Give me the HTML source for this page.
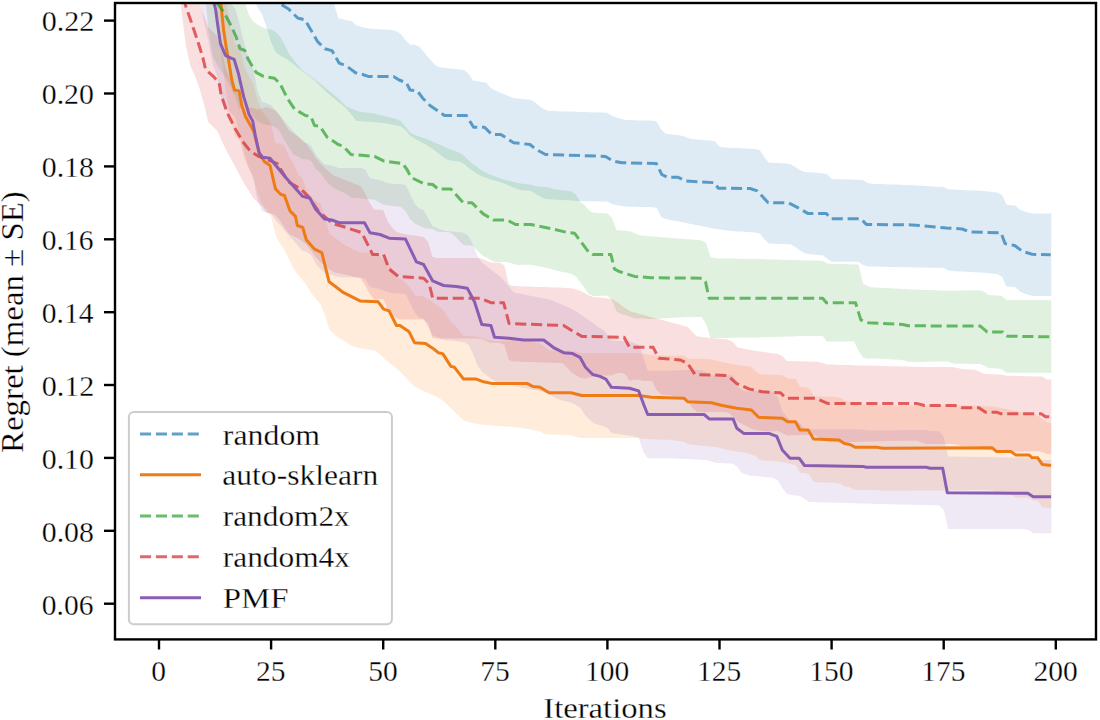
<!DOCTYPE html>
<html><head><meta charset="utf-8"><style>
html,body{margin:0;padding:0;background:#fff;width:1100px;height:720px;overflow:hidden}
svg{display:block}
.t{font-family:"Liberation Serif",serif;fill:#000;stroke:#fff;stroke-width:0.3px;paint-order:fill stroke}
</style></head><body>
<svg width="1100" height="720" viewBox="0 0 1100 720">
<defs><clipPath id="pc"><rect x="115" y="3" width="981" height="636"/></clipPath></defs>
<g clip-path="url(#pc)"><polygon points="159.0,-400.0 163.5,-400.0 168.0,-400.0 172.5,-400.0 176.9,-400.0 181.4,-400.0 185.9,-400.0 190.4,-400.0 194.9,-400.0 199.4,-400.0 203.8,-400.0 208.3,-400.0 212.8,-400.0 217.3,-400.0 221.8,-400.0 226.3,-400.0 230.7,-400.0 235.2,-400.0 239.7,-400.0 244.2,-400.0 248.7,-346.4 253.2,-250.2 257.6,-152.0 262.1,-73.8 266.6,-65.5 271.1,-59.1 275.6,-53.1 280.1,-47.4 284.6,-44.8 289.0,-42.0 293.5,-37.5 298.0,-33.3 302.5,-55.3 307.0,-46.8 311.5,-38.4 315.9,-29.9 320.4,-21.5 324.9,-13.0 329.4,-4.5 333.9,3.9 338.4,18.2 342.8,19.2 347.3,20.2 351.8,21.2 356.3,25.2 360.8,26.8 365.3,27.7 369.7,28.5 374.2,28.9 378.7,29.2 383.2,29.5 387.7,29.8 392.2,30.1 396.7,31.4 401.1,34.2 405.6,40.6 410.1,44.4 414.6,44.7 419.1,46.4 423.6,51.5 428.0,57.0 432.5,62.2 437.0,66.6 441.5,67.5 446.0,68.1 450.5,68.6 454.9,69.1 459.4,69.6 463.9,70.1 468.4,73.4 472.9,80.4 477.4,81.2 481.8,81.9 486.3,82.7 490.8,87.9 495.3,90.6 499.8,92.4 504.3,94.3 508.8,96.2 513.2,98.0 517.7,98.6 522.2,99.1 526.7,99.5 531.2,99.9 535.7,103.1 540.1,106.7 544.6,109.4 549.1,111.0 553.6,111.1 558.1,111.2 562.6,111.4 567.0,111.5 571.5,111.6 576.0,111.8 580.5,111.9 585.0,112.0 589.5,112.2 593.9,112.3 598.4,112.4 602.9,112.6 607.4,112.8 611.9,115.8 616.4,117.4 620.9,118.7 625.3,120.0 629.8,120.1 634.3,120.3 638.8,120.4 643.3,120.5 647.8,120.6 652.2,120.8 656.7,121.5 661.2,129.4 665.7,133.8 670.2,134.3 674.7,134.8 679.1,135.2 683.6,136.2 688.1,138.0 692.6,139.2 697.1,139.6 701.6,139.9 706.0,140.3 710.5,140.6 715.0,141.5 719.5,146.7 724.0,147.5 728.5,147.7 733.0,147.9 737.4,148.1 741.9,148.3 746.4,148.5 750.9,148.7 755.4,148.9 759.9,150.2 764.3,156.9 768.8,162.7 773.3,162.9 777.8,163.1 782.3,163.3 786.8,163.5 791.2,164.4 795.7,167.3 800.2,170.2 804.7,172.0 809.2,172.3 813.7,172.6 818.1,173.0 822.6,173.3 827.1,174.3 831.6,178.9 836.1,179.2 840.6,179.3 845.1,179.5 849.5,179.6 854.0,179.7 858.5,179.8 863.0,180.0 867.5,182.9 872.0,183.7 876.4,183.9 880.9,184.1 885.4,184.2 889.9,184.4 894.4,184.6 898.9,184.7 903.3,184.9 907.8,185.1 912.3,185.3 916.8,185.5 921.3,185.8 925.8,186.0 930.2,186.3 934.7,186.6 939.2,186.9 943.7,187.1 948.2,189.3 952.7,189.5 957.2,189.7 961.6,189.9 966.1,190.2 970.6,190.4 975.1,190.6 979.6,190.8 984.1,191.0 988.5,191.5 993.0,192.0 997.5,192.6 1002.0,195.1 1006.5,204.7 1011.0,205.2 1015.4,205.6 1019.9,209.8 1024.4,211.5 1028.9,212.7 1033.4,213.5 1037.9,213.5 1042.3,213.5 1046.8,213.5 1051.3,213.4 1051.3,296.0 1046.8,296.1 1042.3,296.1 1037.9,296.1 1033.4,296.1 1028.9,295.0 1024.4,293.5 1019.9,291.5 1015.4,287.2 1011.0,286.8 1006.5,286.4 1002.0,276.8 997.5,274.3 993.0,273.7 988.5,273.2 984.1,272.7 979.6,272.5 975.1,272.2 970.6,272.0 966.1,271.7 961.6,271.5 957.2,271.3 952.7,271.0 948.2,270.5 943.7,267.9 939.2,267.8 934.7,267.7 930.2,267.7 925.8,267.6 921.3,267.5 916.8,267.4 912.3,267.3 907.8,267.3 903.3,267.2 898.9,267.1 894.4,267.0 889.9,266.9 885.4,266.8 880.9,266.7 876.4,266.6 872.0,266.5 867.5,266.5 863.0,265.1 858.5,261.8 854.0,261.8 849.5,261.8 845.1,261.8 840.6,261.8 836.1,261.8 831.6,261.8 827.1,258.5 822.6,255.3 818.1,254.9 813.7,254.5 809.2,254.0 804.7,253.6 800.2,250.5 795.7,247.3 791.2,244.5 786.8,244.3 782.3,244.1 777.8,244.0 773.3,243.8 768.8,243.6 764.3,239.0 759.9,233.6 755.4,232.5 750.9,232.2 746.4,231.9 741.9,231.6 737.4,231.4 733.0,231.1 728.5,230.7 724.0,230.1 719.5,229.5 715.0,228.8 710.5,227.9 706.0,227.0 701.6,226.1 697.1,225.2 692.6,224.3 688.1,223.4 683.6,222.5 679.1,221.6 674.7,220.7 670.2,219.9 665.7,219.0 661.2,217.0 656.7,208.0 652.2,207.2 647.8,207.1 643.3,207.0 638.8,206.9 634.3,206.8 629.8,206.7 625.3,206.5 620.9,205.9 616.4,204.9 611.9,203.9 607.4,201.6 602.9,201.5 598.4,201.4 593.9,201.3 589.5,201.3 585.0,201.2 580.5,201.1 576.0,200.9 571.5,200.6 567.0,200.3 562.6,200.0 558.1,199.7 553.6,199.5 549.1,199.2 544.6,198.7 540.1,196.4 535.7,194.0 531.2,190.9 526.7,190.5 522.2,190.3 517.7,189.3 513.2,187.4 508.8,185.6 504.3,183.7 499.8,182.1 495.3,180.8 490.8,179.4 486.3,178.1 481.8,176.3 477.4,173.7 472.9,171.1 468.4,167.7 463.9,163.7 459.4,161.5 454.9,160.9 450.5,160.4 446.0,159.0 441.5,155.7 437.0,152.3 432.5,149.0 428.0,145.8 423.6,143.4 419.1,140.9 414.6,138.4 410.1,135.5 405.6,130.6 401.1,126.3 396.7,125.4 392.2,124.6 387.7,123.8 383.2,123.0 378.7,122.5 374.2,122.2 369.7,121.8 365.3,121.5 360.8,121.2 356.3,120.8 351.8,115.2 347.3,109.6 342.8,105.6 338.4,102.0 333.9,98.3 329.4,94.7 324.9,90.4 320.4,85.9 315.9,81.5 311.5,77.7 307.0,74.5 302.5,71.3 298.0,68.0 293.5,64.2 289.0,60.8 284.6,57.9 280.1,55.6 275.6,52.2 271.1,42.2 266.6,27.5 262.1,14.3 257.6,7.5 253.2,-1.8 248.7,-13.3 244.2,-67.1 239.7,-120.9 235.2,-174.7 230.7,-228.5 226.3,-282.3 221.8,-336.1 217.3,-389.9 212.8,-400.0 208.3,-400.0 203.8,-400.0 199.4,-400.0 194.9,-400.0 190.4,-400.0 185.9,-400.0 181.4,-400.0 176.9,-400.0 172.5,-400.0 168.0,-400.0 163.5,-400.0 159.0,-400.0" fill="#1f77b4" fill-opacity="0.15"/><polygon points="159.0,-400.0 163.5,-400.0 168.0,-400.0 172.5,-400.0 176.9,-400.0 181.4,-400.0 185.9,-400.0 190.4,-400.0 194.9,-347.7 199.4,-293.9 203.8,-240.1 208.3,-186.3 212.8,-132.5 217.3,-78.7 221.8,-34.0 226.3,1.5 230.7,27.3 235.2,44.0 239.7,48.0 244.2,66.4 248.7,75.9 253.2,83.9 257.6,100.8 262.1,111.6 266.6,117.1 271.1,124.0 275.6,142.9 280.1,143.5 284.6,145.5 289.0,157.0 293.5,163.3 298.0,174.6 302.5,178.3 307.0,191.7 311.5,196.8 315.9,200.9 320.4,203.5 324.9,216.3 329.4,233.2 333.9,236.9 338.4,240.3 342.8,243.7 347.3,246.1 351.8,248.5 356.3,250.7 360.8,252.5 365.3,252.6 369.7,252.8 374.2,252.7 378.7,253.6 383.2,259.6 387.7,261.5 392.2,269.0 396.7,277.5 401.1,278.7 405.6,283.2 410.1,287.6 414.6,295.3 419.1,295.7 423.6,296.6 428.0,299.0 432.5,301.9 437.0,305.6 441.5,308.2 446.0,313.9 450.5,321.2 454.9,324.9 459.4,330.8 463.9,336.2 468.4,335.6 472.9,336.2 477.4,336.5 481.8,338.2 486.3,339.7 490.8,340.6 495.3,341.0 499.8,341.0 504.3,340.8 508.8,340.4 513.2,340.1 517.7,339.7 522.2,339.7 526.7,339.6 531.2,341.6 535.7,342.8 540.1,343.5 544.6,346.4 549.1,350.6 553.6,350.6 558.1,350.6 562.6,350.6 567.0,350.5 571.5,350.5 576.0,351.6 580.5,352.8 585.0,353.1 589.5,353.1 593.9,353.1 598.4,353.1 602.9,353.1 607.4,353.1 611.9,353.1 616.4,353.1 620.9,353.1 625.3,353.1 629.8,353.1 634.3,353.1 638.8,353.1 643.3,353.8 647.8,354.4 652.2,355.3 656.7,355.5 661.2,355.6 665.7,355.7 670.2,355.8 674.7,355.7 679.1,355.5 683.6,355.3 688.1,358.7 692.6,358.9 697.1,358.8 701.6,359.0 706.0,359.1 710.5,359.3 715.0,360.3 719.5,361.4 724.0,362.5 728.5,363.3 733.0,364.1 737.4,364.9 741.9,365.5 746.4,366.0 750.9,366.7 755.4,371.0 759.9,374.3 764.3,374.5 768.8,374.6 773.3,374.8 777.8,375.0 782.3,375.1 786.8,378.1 791.2,378.7 795.7,379.1 800.2,387.0 804.7,387.0 809.2,388.6 813.7,396.1 818.1,396.3 822.6,396.4 827.1,396.6 831.6,396.8 836.1,397.0 840.6,398.1 845.1,400.8 849.5,401.6 854.0,403.7 858.5,404.5 863.0,404.5 867.5,404.5 872.0,404.6 876.4,404.6 880.9,405.2 885.4,405.5 889.9,405.5 894.4,405.5 898.9,405.5 903.3,405.5 907.8,405.6 912.3,405.6 916.8,405.6 921.3,405.6 925.8,405.6 930.2,405.6 934.7,405.6 939.2,405.6 943.7,405.6 948.2,405.6 952.7,405.6 957.2,405.6 961.6,405.6 966.1,405.6 970.6,405.6 975.1,405.6 979.6,405.6 984.1,406.0 988.5,406.3 993.0,406.6 997.5,407.3 1002.0,408.2 1006.5,409.1 1011.0,410.0 1015.4,410.9 1019.9,411.8 1024.4,412.7 1028.9,413.6 1033.4,414.5 1037.9,415.4 1042.3,419.0 1046.8,422.2 1051.3,422.8 1051.3,508.4 1046.8,507.8 1042.3,507.2 1037.9,500.7 1033.4,500.6 1028.9,498.0 1024.4,497.4 1019.9,497.4 1015.4,497.3 1011.0,494.7 1006.5,494.7 1002.0,494.1 997.5,493.5 993.0,490.7 988.5,490.0 984.1,490.0 979.6,490.0 975.1,490.1 970.6,490.1 966.1,490.2 961.6,490.2 957.2,490.2 952.7,490.3 948.2,490.3 943.7,490.4 939.2,490.4 934.7,490.4 930.2,490.5 925.8,490.5 921.3,490.5 916.8,490.6 912.3,490.6 907.8,490.7 903.3,490.7 898.9,490.7 894.4,490.8 889.9,490.8 885.4,490.9 880.9,490.6 876.4,490.0 872.0,490.0 867.5,490.1 863.0,490.1 858.5,490.1 854.0,489.4 849.5,487.3 845.1,486.6 840.6,483.9 836.1,482.8 831.6,482.7 827.1,482.5 822.6,482.4 818.1,482.3 813.7,482.1 809.2,474.7 804.7,473.0 800.2,473.0 795.7,465.3 791.2,464.2 786.8,463.1 782.3,461.9 777.8,461.5 773.3,461.1 768.8,460.7 764.3,460.4 759.9,459.9 755.4,456.1 750.9,454.5 746.4,453.0 741.9,452.2 737.4,451.5 733.0,450.8 728.5,450.2 724.0,449.0 719.5,447.7 715.0,447.0 710.5,446.6 706.0,446.1 701.6,445.7 697.1,445.3 692.6,444.8 688.1,444.0 683.6,441.8 679.1,441.1 674.7,440.5 670.2,439.8 665.7,439.7 661.2,439.5 656.7,439.4 652.2,439.3 647.8,439.1 643.3,439.0 638.8,438.3 634.3,437.9 629.8,437.9 625.3,437.9 620.9,437.9 616.4,437.9 611.9,437.9 607.4,437.9 602.9,437.9 598.4,437.9 593.9,437.9 589.5,437.9 585.0,437.9 580.5,437.9 576.0,436.8 571.5,435.5 567.0,434.9 562.6,434.8 558.1,434.7 553.6,434.6 549.1,434.5 544.6,433.9 540.1,431.6 535.7,430.5 531.2,429.6 526.7,428.8 522.2,427.9 517.7,427.5 513.2,427.1 508.8,426.8 504.3,426.4 499.8,426.1 495.3,425.7 490.8,425.3 486.3,425.0 481.8,424.6 477.4,423.9 472.9,423.0 468.4,422.0 463.9,420.4 459.4,416.5 454.9,412.3 450.5,407.9 446.0,403.5 441.5,399.5 437.0,396.9 432.5,395.0 428.0,393.0 423.6,390.9 419.1,388.6 414.6,386.4 410.1,382.4 405.6,376.9 401.1,372.5 396.7,368.8 392.2,365.1 387.7,361.5 383.2,357.8 378.7,353.2 374.2,350.5 369.7,349.8 365.3,349.1 360.8,348.3 356.3,347.6 351.8,345.7 347.3,342.9 342.8,340.2 338.4,337.6 333.9,333.9 329.4,329.4 324.9,315.0 320.4,304.6 315.9,298.7 311.5,293.4 307.0,285.9 302.5,279.7 298.0,274.7 293.5,268.3 289.0,259.4 284.6,250.3 280.1,243.8 275.6,235.3 271.1,216.4 266.6,209.4 262.1,204.0 257.6,193.1 253.2,176.3 248.7,168.3 244.2,158.7 239.7,140.4 235.2,136.3 230.7,119.6 226.3,93.8 221.8,58.4 217.3,13.7 212.8,-40.1 208.3,-93.9 203.8,-147.7 199.4,-201.6 194.9,-255.4 190.4,-309.2 185.9,-363.0 181.4,-400.0 176.9,-400.0 172.5,-400.0 168.0,-400.0 163.5,-400.0 159.0,-400.0" fill="#ff7f0e" fill-opacity="0.15"/><polygon points="159.0,-400.0 163.5,-400.0 168.0,-400.0 172.5,-400.0 176.9,-400.0 181.4,-400.0 185.9,-363.4 190.4,-309.6 194.9,-255.8 199.4,-202.0 203.8,-148.2 208.3,-94.4 212.8,-68.4 217.3,-59.0 221.8,-52.8 226.3,-45.4 230.7,-37.0 235.2,-27.2 239.7,-14.5 244.2,-0.1 248.7,14.6 253.2,21.3 257.6,24.7 262.1,27.0 266.6,28.9 271.1,29.6 275.6,31.8 280.1,36.5 284.6,44.7 289.0,53.8 293.5,59.6 298.0,65.5 302.5,70.2 307.0,73.5 311.5,76.8 315.9,80.1 320.4,83.7 324.9,87.4 329.4,91.1 333.9,94.7 338.4,98.5 342.8,103.0 347.3,107.0 351.8,108.7 356.3,110.5 360.8,112.1 365.3,112.6 369.7,113.1 374.2,113.6 378.7,114.7 383.2,115.8 387.7,116.9 392.2,118.0 396.7,119.2 401.1,121.4 405.6,127.0 410.1,132.6 414.6,134.9 419.1,136.5 423.6,138.1 428.0,139.6 432.5,141.5 437.0,143.6 441.5,145.6 446.0,147.6 450.5,149.4 454.9,151.0 459.4,152.7 463.9,155.7 468.4,160.2 472.9,164.1 477.4,167.3 481.8,170.5 486.3,172.9 490.8,174.7 495.3,176.5 499.8,178.3 504.3,179.7 508.8,180.8 513.2,181.9 517.7,182.9 522.2,183.7 526.7,184.2 531.2,184.8 535.7,186.2 540.1,186.7 544.6,187.0 549.1,187.4 553.6,189.0 558.1,189.7 562.6,190.2 567.0,190.8 571.5,191.4 576.0,194.8 580.5,201.9 585.0,205.6 589.5,210.8 593.9,212.7 598.4,212.9 602.9,213.2 607.4,213.4 611.9,217.7 616.4,230.0 620.9,230.4 625.3,230.7 629.8,231.3 634.3,233.1 638.8,234.9 643.3,235.7 647.8,236.1 652.2,236.5 656.7,236.8 661.2,237.2 665.7,237.5 670.2,237.9 674.7,238.2 679.1,238.5 683.6,238.9 688.1,239.2 692.6,239.6 697.1,239.9 701.6,240.4 706.0,242.7 710.5,257.0 715.0,258.3 719.5,258.4 724.0,258.4 728.5,258.5 733.0,258.6 737.4,258.7 741.9,258.8 746.4,258.9 750.9,258.9 755.4,259.0 759.9,259.1 764.3,259.2 768.8,259.4 773.3,259.5 777.8,259.6 782.3,259.7 786.8,259.9 791.2,260.0 795.7,260.1 800.2,260.3 804.7,260.4 809.2,260.5 813.7,260.6 818.1,260.8 822.6,260.9 827.1,263.6 831.6,263.7 836.1,263.9 840.6,264.0 845.1,264.1 849.5,264.2 854.0,264.4 858.5,264.5 863.0,283.7 867.5,286.0 872.0,287.4 876.4,287.6 880.9,287.9 885.4,288.1 889.9,288.3 894.4,288.6 898.9,288.8 903.3,289.0 907.8,289.2 912.3,289.4 916.8,289.6 921.3,289.8 925.8,289.9 930.2,290.1 934.7,290.3 939.2,290.5 943.7,290.7 948.2,290.8 952.7,290.8 957.2,290.7 961.6,290.6 966.1,290.5 970.6,290.4 975.1,290.3 979.6,290.2 984.1,291.7 988.5,295.0 993.0,295.3 997.5,295.6 1002.0,295.9 1006.5,299.9 1011.0,299.9 1015.4,299.9 1019.9,299.9 1024.4,299.9 1028.9,299.9 1033.4,299.9 1037.9,299.9 1042.3,299.9 1046.8,299.9 1051.3,300.4 1051.3,373.2 1046.8,372.8 1042.3,372.8 1037.9,372.8 1033.4,372.8 1028.9,372.8 1024.4,372.8 1019.9,372.8 1015.4,372.8 1011.0,372.8 1006.5,372.8 1002.0,369.3 997.5,368.6 993.0,368.3 988.5,368.0 984.1,365.5 979.6,364.0 975.1,363.9 970.6,363.9 966.1,363.8 961.6,363.7 957.2,363.7 952.7,363.6 948.2,361.6 943.7,361.6 939.2,361.5 934.7,361.5 930.2,361.7 925.8,361.8 921.3,361.9 916.8,361.9 912.3,361.9 907.8,361.8 903.3,360.3 898.9,359.8 894.4,359.6 889.9,359.3 885.4,359.1 880.9,358.9 876.4,358.6 872.0,358.4 867.5,358.8 863.0,357.8 858.5,350.7 854.0,341.2 849.5,341.3 845.1,341.4 840.6,341.4 836.1,341.4 831.6,341.4 827.1,341.4 822.6,335.9 818.1,335.9 813.7,335.9 809.2,335.9 804.7,336.0 800.2,336.1 795.7,336.3 791.2,336.4 786.8,336.5 782.3,336.7 777.8,336.8 773.3,336.9 768.8,337.0 764.3,337.2 759.9,337.3 755.4,337.4 750.9,337.5 746.4,337.5 741.9,337.6 737.4,337.7 733.0,337.8 728.5,337.9 724.0,338.0 719.5,338.0 715.0,338.0 710.5,338.0 706.0,324.1 701.6,317.1 697.1,317.0 692.6,317.0 688.1,317.0 683.6,317.2 679.1,317.5 674.7,317.8 670.2,318.0 665.7,318.3 661.2,318.6 656.7,318.8 652.2,319.1 647.8,319.0 643.3,318.6 638.8,318.6 634.3,318.2 629.8,316.8 625.3,315.3 620.9,313.8 616.4,311.3 611.9,299.8 607.4,295.8 602.9,295.8 598.4,296.1 593.9,296.1 589.5,294.4 585.0,288.7 580.5,282.6 576.0,276.6 571.5,273.9 567.0,272.8 562.6,272.1 558.1,271.0 553.6,269.7 549.1,268.4 544.6,267.4 540.1,266.5 535.7,265.7 531.2,264.8 526.7,264.8 522.2,264.8 517.7,264.9 513.2,264.0 508.8,262.4 504.3,261.7 499.8,261.9 495.3,262.1 490.8,260.3 486.3,257.6 481.8,255.1 477.4,250.6 472.9,246.1 468.4,245.2 463.9,245.2 459.4,240.9 454.9,236.0 450.5,232.6 446.0,232.0 441.5,232.0 437.0,231.6 432.5,228.9 428.0,228.5 423.6,228.0 419.1,225.6 414.6,223.4 410.1,219.3 405.6,211.2 401.1,207.0 396.7,206.3 392.2,205.9 387.7,205.3 383.2,204.5 378.7,202.3 374.2,199.6 369.7,199.2 365.3,198.9 360.8,198.5 356.3,198.1 351.8,198.1 347.3,194.9 342.8,192.0 338.4,190.6 333.9,187.7 329.4,184.8 324.9,179.8 320.4,172.6 315.9,169.2 311.5,161.3 307.0,159.3 302.5,159.3 298.0,156.6 293.5,154.6 289.0,148.0 284.6,140.2 280.1,131.7 275.6,127.2 271.1,125.6 266.6,124.9 262.1,123.7 257.6,121.4 253.2,116.4 248.7,108.7 244.2,100.6 239.7,110.0 235.2,97.2 230.7,87.5 226.3,79.1 221.8,71.7 217.3,65.5 212.8,56.1 208.3,30.1 203.8,-23.7 199.4,-77.5 194.9,-131.3 190.4,-185.1 185.9,-238.9 181.4,-292.7 176.9,-346.5 172.5,-400.0 168.0,-400.0 163.5,-400.0 159.0,-400.0" fill="#2ca02c" fill-opacity="0.15"/><polygon points="159.0,-323.4 163.5,-269.5 168.0,-215.7 172.5,-161.9 176.9,-108.1 181.4,-54.3 185.9,-32.7 190.4,-22.0 194.9,-8.9 199.4,3.3 203.8,15.4 208.3,27.5 212.8,31.5 217.3,36.5 221.8,52.3 226.3,69.7 230.7,79.9 235.2,88.7 239.7,96.6 244.2,103.5 248.7,107.6 253.2,108.1 257.6,109.4 262.1,108.6 266.6,106.9 271.1,108.7 275.6,110.4 280.1,115.7 284.6,123.6 289.0,130.5 293.5,133.4 298.0,136.3 302.5,139.9 307.0,144.8 311.5,151.1 315.9,157.9 320.4,163.5 324.9,167.8 329.4,172.1 333.9,175.7 338.4,177.3 342.8,179.0 347.3,180.7 351.8,182.5 356.3,184.4 360.8,186.2 365.3,193.8 369.7,203.1 374.2,209.4 378.7,209.7 383.2,210.1 387.7,221.2 392.2,227.8 396.7,231.8 401.1,233.6 405.6,234.3 410.1,234.9 414.6,235.6 419.1,236.3 423.6,236.9 428.0,241.7 432.5,256.9 437.0,258.0 441.5,258.0 446.0,258.0 450.5,258.0 454.9,258.0 459.4,258.0 463.9,258.0 468.4,258.0 472.9,258.0 477.4,258.0 481.8,258.8 486.3,260.7 490.8,262.6 495.3,262.7 499.8,262.7 504.3,265.5 508.8,284.5 513.2,286.1 517.7,286.3 522.2,286.4 526.7,286.6 531.2,286.7 535.7,286.9 540.1,287.0 544.6,287.1 549.1,287.3 553.6,287.4 558.1,287.6 562.6,287.7 567.0,287.9 571.5,288.2 576.0,289.5 580.5,290.9 585.0,293.2 589.5,295.7 593.9,297.2 598.4,297.6 602.9,298.1 607.4,298.5 611.9,298.9 616.4,301.7 620.9,305.0 625.3,308.3 629.8,311.2 634.3,312.5 638.8,313.7 643.3,314.9 647.8,316.2 652.2,317.4 656.7,318.6 661.2,319.8 665.7,321.0 670.2,322.2 674.7,323.4 679.1,324.6 683.6,325.8 688.1,326.9 692.6,332.4 697.1,336.6 701.6,337.0 706.0,337.5 710.5,337.9 715.0,338.4 719.5,338.8 724.0,339.3 728.5,339.7 733.0,342.1 737.4,347.4 741.9,348.3 746.4,349.3 750.9,350.1 755.4,350.8 759.9,351.4 764.3,352.1 768.8,352.7 773.3,353.4 777.8,354.0 782.3,356.1 786.8,361.0 791.2,361.1 795.7,361.2 800.2,361.3 804.7,361.4 809.2,361.6 813.7,361.7 818.1,361.8 822.6,363.1 827.1,364.5 831.6,364.6 836.1,364.8 840.6,364.9 845.1,365.0 849.5,365.1 854.0,365.3 858.5,365.4 863.0,365.5 867.5,365.6 872.0,365.7 876.4,365.8 880.9,365.9 885.4,366.1 889.9,366.2 894.4,366.3 898.9,366.4 903.3,366.5 907.8,366.6 912.3,366.7 916.8,366.8 921.3,366.9 925.8,366.9 930.2,366.9 934.7,366.9 939.2,366.9 943.7,366.9 948.2,366.9 952.7,366.9 957.2,368.0 961.6,369.0 966.1,369.3 970.6,369.5 975.1,369.7 979.6,371.9 984.1,373.8 988.5,374.0 993.0,374.3 997.5,374.5 1002.0,374.8 1006.5,375.7 1011.0,375.8 1015.4,375.9 1019.9,376.1 1024.4,376.2 1028.9,376.3 1033.4,376.4 1037.9,376.5 1042.3,376.6 1046.8,379.6 1051.3,379.5 1051.3,453.9 1046.8,454.0 1042.3,452.0 1037.9,451.2 1033.4,451.3 1028.9,451.4 1024.4,451.4 1019.9,451.5 1015.4,451.7 1011.0,451.8 1006.5,451.8 1002.0,451.8 997.5,450.5 993.0,450.2 988.5,450.2 984.1,449.2 979.6,446.3 975.1,446.0 970.6,446.0 966.1,446.1 961.6,446.1 957.2,444.8 952.7,444.1 948.2,444.1 943.7,444.1 939.2,444.1 934.7,444.1 930.2,444.1 925.8,444.1 921.3,442.4 916.8,440.7 912.3,440.7 907.8,440.7 903.3,440.7 898.9,440.8 894.4,440.9 889.9,441.0 885.4,441.1 880.9,441.3 876.4,441.4 872.0,441.5 867.5,441.6 863.0,441.7 858.5,441.8 854.0,441.9 849.5,442.1 845.1,442.2 840.6,442.2 836.1,442.2 831.6,442.2 827.1,441.8 822.6,439.3 818.1,436.9 813.7,435.1 809.2,435.1 804.7,435.1 800.2,435.1 795.7,435.2 791.2,435.3 786.8,435.4 782.3,432.9 777.8,431.1 773.3,431.3 768.8,431.5 764.3,431.3 759.9,430.7 755.4,429.7 750.9,428.7 746.4,426.3 741.9,423.9 737.4,421.3 733.0,416.6 728.5,412.7 724.0,411.9 719.5,412.0 715.0,411.8 710.5,412.0 706.0,412.2 701.6,412.0 697.1,411.9 692.6,408.3 688.1,401.5 683.6,398.5 679.1,396.8 674.7,396.5 670.2,395.3 665.7,394.9 661.2,394.5 656.7,390.2 652.2,380.9 647.8,380.9 643.3,380.9 638.8,379.7 634.3,379.7 629.8,380.9 625.3,374.4 620.9,372.7 616.4,373.2 611.9,375.2 607.4,375.4 602.9,375.6 598.4,375.9 593.9,376.1 589.5,377.4 585.0,378.6 580.5,377.8 576.0,375.2 571.5,372.6 567.0,367.4 562.6,363.2 558.1,363.0 553.6,362.9 549.1,362.7 544.6,362.5 540.1,362.4 535.7,362.2 531.2,362.0 526.7,361.9 522.2,361.7 517.7,361.5 513.2,361.4 508.8,360.0 504.3,344.9 499.8,342.7 495.3,342.7 490.8,342.7 486.3,340.9 481.8,339.1 477.4,338.4 472.9,338.4 468.4,338.4 463.9,338.4 459.4,338.4 454.9,338.4 450.5,338.4 446.0,338.4 441.5,338.4 437.0,338.4 432.5,338.0 428.0,323.5 423.6,319.4 419.1,319.5 414.6,319.5 410.1,319.5 405.6,319.6 401.1,319.6 396.7,318.5 392.2,315.2 387.7,309.3 383.2,298.9 378.7,299.3 374.2,299.6 369.7,294.1 365.3,285.4 360.8,278.5 356.3,277.4 351.8,276.3 347.3,275.1 342.8,274.1 338.4,273.2 333.9,272.2 329.4,269.3 324.9,265.7 320.4,262.2 315.9,257.3 311.5,251.1 307.0,245.5 302.5,241.3 298.0,238.4 293.5,236.2 289.0,234.1 284.6,227.8 280.1,220.7 275.6,215.4 271.1,213.6 266.6,212.9 262.1,206.6 257.6,202.1 253.2,197.9 248.7,190.7 244.2,183.5 239.7,175.5 235.2,166.8 230.7,158.5 226.3,150.5 221.8,141.1 217.3,130.9 212.8,126.4 208.3,121.9 203.8,103.4 199.4,87.9 194.9,75.7 190.4,65.9 185.9,45.7 181.4,10.4 176.9,-43.4 172.5,-97.2 168.0,-151.0 163.5,-204.8 159.0,-258.6" fill="#d62728" fill-opacity="0.15"/><polygon points="159.0,-400.0 163.5,-400.0 168.0,-400.0 172.5,-400.0 176.9,-400.0 181.4,-400.0 185.9,-389.7 190.4,-335.9 194.9,-282.1 199.4,-228.3 203.8,-174.5 208.3,-120.7 212.8,-66.9 217.3,-32.6 221.8,-7.8 226.3,1.2 230.7,3.3 235.2,8.4 239.7,24.8 244.2,43.8 248.7,58.5 253.2,68.9 257.6,91.6 262.1,102.0 266.6,103.2 271.1,105.0 275.6,110.6 280.1,116.0 284.6,121.4 289.0,126.6 293.5,131.6 298.0,136.6 302.5,141.6 307.0,142.9 311.5,146.5 315.9,154.9 320.4,159.9 324.9,164.5 329.4,165.1 333.9,166.2 338.4,167.9 342.8,168.1 347.3,168.1 351.8,168.1 356.3,168.1 360.8,168.1 365.3,169.5 369.7,177.7 374.2,178.9 378.7,179.7 383.2,181.2 387.7,183.0 392.2,183.8 396.7,184.0 401.1,184.3 405.6,184.8 410.1,194.1 414.6,203.5 419.1,208.2 423.6,209.9 428.0,217.9 432.5,226.0 437.0,228.1 441.5,230.0 446.0,231.1 450.5,231.4 454.9,231.7 459.4,232.3 463.9,233.1 468.4,235.7 472.9,244.2 477.4,256.1 481.8,262.2 486.3,265.8 490.8,269.4 495.3,273.0 499.8,276.6 504.3,281.1 508.8,286.5 513.2,291.8 517.7,293.2 522.2,294.1 526.7,295.0 531.2,295.9 535.7,296.8 540.1,297.7 544.6,298.6 549.1,299.5 553.6,301.3 558.1,303.1 562.6,304.9 567.0,306.7 571.5,308.5 576.0,311.2 580.5,314.4 585.0,317.5 589.5,320.7 593.9,323.8 598.4,327.3 602.9,329.4 607.4,334.7 611.9,340.7 616.4,340.9 620.9,341.1 625.3,341.3 629.8,341.6 634.3,342.9 638.8,344.7 643.3,357.0 647.8,370.7 652.2,370.7 656.7,370.7 661.2,370.7 665.7,370.7 670.2,370.7 674.7,370.5 679.1,370.3 683.6,370.1 688.1,369.9 692.6,369.9 697.1,369.9 701.6,369.9 706.0,372.3 710.5,375.2 715.0,375.2 719.5,375.2 724.0,375.2 728.5,375.2 733.0,375.2 737.4,386.6 741.9,389.9 746.4,391.5 750.9,391.5 755.4,391.1 759.9,390.8 764.3,390.8 768.8,390.8 773.3,392.2 777.8,397.2 782.3,410.9 786.8,416.8 791.2,420.9 795.7,421.4 800.2,423.3 804.7,429.1 809.2,429.2 813.7,429.3 818.1,429.3 822.6,429.3 827.1,429.3 831.6,429.3 836.1,429.3 840.6,429.3 845.1,429.3 849.5,429.3 854.0,429.4 858.5,429.4 863.0,429.6 867.5,430.6 872.0,430.6 876.4,430.6 880.9,430.6 885.4,430.5 889.9,430.4 894.4,430.3 898.9,430.2 903.3,430.1 907.8,430.0 912.3,429.9 916.8,429.9 921.3,429.9 925.8,429.9 930.2,431.0 934.7,431.1 939.2,431.2 943.7,437.0 948.2,456.5 952.7,456.6 957.2,456.6 961.6,456.7 966.1,456.8 970.6,456.8 975.1,456.9 979.6,457.0 984.1,457.0 988.5,457.1 993.0,457.2 997.5,457.2 1002.0,457.3 1006.5,457.4 1011.0,457.4 1015.4,457.5 1019.9,457.5 1024.4,457.5 1028.9,458.0 1033.4,460.1 1037.9,460.1 1042.3,460.1 1046.8,460.1 1051.3,460.1 1051.3,533.3 1046.8,533.3 1042.3,533.3 1037.9,533.3 1033.4,533.3 1028.9,530.0 1024.4,528.9 1019.9,528.9 1015.4,528.9 1011.0,528.9 1006.5,528.9 1002.0,528.9 997.5,528.9 993.0,528.9 988.5,528.9 984.1,528.9 979.6,528.9 975.1,528.9 970.6,528.9 966.1,528.9 961.6,528.9 957.2,528.9 952.7,528.9 948.2,528.9 943.7,510.1 939.2,505.4 934.7,505.3 930.2,505.2 925.8,505.1 921.3,505.0 916.8,504.9 912.3,504.7 907.8,504.6 903.3,504.5 898.9,504.4 894.4,504.3 889.9,504.2 885.4,504.1 880.9,504.0 876.4,503.9 872.0,503.7 867.5,503.6 863.0,503.5 858.5,503.4 854.0,503.2 849.5,503.1 845.1,503.0 840.6,502.8 836.1,502.7 831.6,502.6 827.1,502.4 822.6,502.3 818.1,502.2 813.7,502.0 809.2,501.9 804.7,499.3 800.2,496.1 795.7,495.5 791.2,495.0 786.8,493.8 782.3,487.9 777.8,480.5 773.3,477.9 768.8,477.5 764.3,477.0 759.9,476.6 755.4,476.1 750.9,475.7 746.4,474.5 741.9,472.7 737.4,467.3 733.0,463.5 728.5,463.4 724.0,463.2 719.5,463.0 715.0,462.8 710.5,461.1 706.0,459.9 701.6,459.7 697.1,459.5 692.6,459.3 688.1,459.1 683.6,458.9 679.1,458.7 674.7,458.5 670.2,458.3 665.7,458.3 661.2,458.3 656.7,458.3 652.2,458.3 647.8,458.3 643.3,451.9 638.8,437.7 634.3,436.4 629.8,435.7 625.3,435.1 620.9,434.4 616.4,433.8 611.9,433.2 607.4,427.9 602.9,426.1 598.4,424.8 593.9,423.5 589.5,419.5 585.0,415.0 580.5,408.1 576.0,405.0 571.5,402.8 567.0,401.5 562.6,400.8 558.1,399.1 553.6,396.8 549.1,394.6 544.6,392.4 540.1,391.1 535.7,390.3 531.2,389.4 526.7,388.5 522.2,387.6 517.7,386.6 513.2,385.5 508.8,384.5 504.3,383.5 499.8,382.4 495.3,381.4 490.8,378.8 486.3,375.1 481.8,371.4 477.4,365.3 472.9,353.3 468.4,344.8 463.9,342.2 459.4,341.5 454.9,340.9 450.5,340.6 446.0,340.2 441.5,339.2 437.0,337.3 432.5,335.2 428.0,327.1 423.6,319.1 419.1,317.4 414.6,312.6 410.1,303.3 405.6,293.9 401.1,293.4 396.7,293.2 392.2,292.9 387.7,292.2 383.2,290.4 378.7,288.8 374.2,288.0 369.7,286.8 365.3,278.7 360.8,277.3 356.3,277.3 351.8,277.3 347.3,277.3 342.8,277.3 338.4,277.0 333.9,275.4 329.4,274.2 324.9,273.6 320.4,269.0 315.9,264.1 311.5,255.6 307.0,252.0 302.5,250.7 298.0,245.7 293.5,240.7 289.0,235.7 284.6,230.6 280.1,225.2 275.6,219.7 271.1,214.1 266.6,212.4 262.1,211.1 257.6,200.7 253.2,178.0 248.7,167.7 244.2,152.9 239.7,133.9 235.2,117.6 230.7,112.5 226.3,110.4 221.8,101.3 217.3,76.5 212.8,64.5 208.3,40.8 203.8,21.1 199.4,-0.4 194.9,-173.0 190.4,-226.8 185.9,-280.6 181.4,-334.4 176.9,-388.2 172.5,-400.0 168.0,-400.0 163.5,-400.0 159.0,-400.0" fill="#9467bd" fill-opacity="0.15"/><polyline points="262.0,-20.0 279.6,3.6 288.6,9.0 297.7,18.0 305.0,19.9 310.3,28.9 317.5,41.5 324.8,48.8 332.0,50.6 339.2,63.2 346.4,65.9 355.5,72.7 362.7,74.5 368.2,76.4 393.6,76.4 399.1,80.0 406.4,82.7 410.0,90.0 417.3,90.9 422.7,98.2 430.0,105.5 444.5,115.5 466.4,115.5 473.6,127.3 484.5,127.3 491.8,134.5 500.9,134.5 513.6,142.7 530.0,144.5 535.5,149.1 545.5,154.5 605.5,156.4 612.7,160.9 621.8,162.7 656.4,163.6 661.8,174.5 667.3,177.3 678.2,177.3 685.5,180.9 714.5,182.7 718.2,188.2 750.0,188.5 757.3,190.9 768.2,202.7 788.2,202.7 797.3,207.3 808.2,213.6 826.4,213.6 830.9,218.7 860.9,218.7 866.4,224.5 911.8,224.9 946.7,228.0 962.2,229.0 970.0,231.9 1001.1,232.9 1005.0,243.6 1014.7,245.5 1022.5,251.4 1032.2,254.3 1050.7,254.7" fill="none" stroke="#1f77b4" stroke-opacity="0.7" stroke-width="3" stroke-dasharray="11.1 4.8" stroke-linejoin="round"/><polyline points="219.0,-12.0 221.0,3.9 222.0,14.6 223.5,29.2 226.4,48.6 228.3,58.3 231.8,80.0 234.5,90.0 239.1,90.9 241.8,105.5 245.5,116.4 253.6,130.9 259.1,152.7 264.5,161.8 270.0,165.5 275.5,189.0 280.9,194.5 284.5,195.5 290.0,210.9 295.5,216.4 297.3,225.5 302.7,227.3 306.4,240.0 314.5,249.1 321.8,252.7 329.1,281.8 336.4,287.3 343.6,292.7 360.0,300.9 378.2,301.8 383.6,309.1 389.1,310.9 396.4,325.5 400.0,325.5 409.1,331.8 414.5,342.7 425.5,343.6 432.7,348.2 438.2,352.7 442.7,353.6 450.9,366.4 454.5,367.3 463.6,379.1 476.4,379.1 483.6,381.8 492.7,383.6 527.3,383.6 532.7,386.4 540.0,387.3 549.1,392.7 570.9,392.7 581.8,395.5 638.6,395.5 651.4,397.3 684.1,398.2 687.7,401.8 711.4,402.7 722.3,405.5 736.8,408.2 751.4,410.0 758.6,417.3 782.3,418.2 787.7,421.8 795.5,421.8 800.0,430.0 808.2,430.0 813.6,439.1 839.1,440.0 844.5,443.6 850.0,444.5 855.5,447.3 877.3,447.3 882.7,448.2 992.2,447.8 996.7,451.6 1011.1,451.6 1015.6,454.9 1028.9,454.9 1032.2,457.8 1037.8,457.8 1042.2,464.4 1051.1,465.6" fill="none" stroke="#ee7b14" stroke-width="3" stroke-linejoin="round"/><polyline points="210.0,-12.0 217.6,3.9 223.5,11.7 230.3,24.3 236.1,36.9 240.0,48.6 244.8,50.5 247.7,58.3 254.5,70.0 256.4,72.7 263.6,76.4 274.5,78.2 280.0,83.6 287.3,98.2 294.5,109.0 305.5,115.5 310.9,116.4 314.5,125.5 320.0,126.4 327.3,137.3 338.2,144.5 343.6,146.4 350.9,154.5 374.5,156.4 383.6,160.9 402.7,163.6 407.3,170.0 410.9,177.3 423.6,183.6 432.7,184.5 438.2,189.1 450.9,189.1 463.3,202.7 472.0,202.7 482.9,213.6 493.8,220.1 507.0,220.1 515.6,224.5 530.9,224.5 541.8,226.7 552.7,228.9 565.8,232.1 574.5,233.2 589.1,252.7 592.7,254.5 610.9,254.5 614.5,269.1 620.0,271.8 634.5,276.4 650.9,277.8 701.8,278.2 705.5,281.8 709.1,298.2 822.7,298.2 826.4,302.7 855.5,302.7 860.9,320.0 868.2,322.7 902.7,324.5 908.2,325.8 980.3,326.1 987.1,331.9 1002.6,331.9 1007.5,336.2 1049.3,336.8" fill="none" stroke="#2ca02c" stroke-opacity="0.7" stroke-width="3" stroke-dasharray="11.1 4.8" stroke-linejoin="round"/><polyline points="183.0,-3.0 186.0,6.8 189.4,16.5 194.3,31.1 199.2,45.7 203.0,58.3 205.6,69.5 213.3,76.3 219.2,83.1 221.1,94.7 227.0,112.3 234.7,127.8 242.5,141.4 250.3,151.2 258.1,156.0 277.3,163.6 288.2,181.8 300.9,189.0 308.2,196.4 318.2,210.9 332.7,223.6 345.5,227.3 361.8,232.7 372.7,254.5 383.6,254.5 389.1,269.0 398.2,276.4 423.6,278.2 429.1,283.6 432.7,298.2 480.0,298.2 490.9,302.7 503.6,302.7 509.1,323.6 563.6,325.5 570.9,330.0 581.8,336.4 624.1,337.3 629.5,347.3 653.2,347.3 658.6,358.2 680.5,360.0 687.7,363.6 695.0,374.5 727.7,375.5 736.8,383.6 749.5,389.1 762.3,391.8 780.5,392.7 785.9,398.2 815.5,398.2 828.2,403.6 917.3,403.6 924.5,405.5 955.0,405.5 962.2,407.8 978.9,407.8 985.6,412.2 996.7,412.2 1001.1,413.8 1041.1,413.8 1045.6,416.7 1051.1,416.7" fill="none" stroke="#d62728" stroke-opacity="0.7" stroke-width="3" stroke-dasharray="11.1 4.8" stroke-linejoin="round"/><polyline points="213.0,-10.0 214.2,3.9 215.7,9.7 217.6,24.3 220.5,43.7 225.4,55.4 229.3,57.3 234.1,59.3 238.2,72.7 243.6,96.4 249.1,114.5 252.7,120.9 255.5,136.4 259.1,152.7 262.7,157.3 270.0,158.2 277.3,167.3 286.4,178.2 302.7,196.4 310.0,198.2 315.5,209.0 324.5,219.0 331.8,220.0 339.0,222.7 364.5,222.7 370.0,232.7 380.0,234.5 389.1,238.2 405.5,239.1 416.4,261.8 423.6,264.5 432.7,280.9 443.6,285.5 456.4,286.4 467.3,288.2 474.5,301.8 481.8,324.5 490.9,325.5 494.5,337.3 509.1,338.2 523.6,340.0 543.6,340.0 554.5,348.2 563.6,352.7 572.7,353.6 580.0,357.3 585.5,367.3 592.7,374.5 600.0,376.4 605.9,379.1 611.4,387.3 629.5,388.2 638.6,390.9 644.1,405.5 647.7,414.5 704.1,414.5 709.5,419.1 733.2,419.1 736.8,428.2 744.1,433.6 769.5,433.6 776.8,436.4 782.3,450.0 790.0,458.2 799.1,458.2 804.5,465.5 862.7,466.4 866.4,467.3 926.4,467.3 930.0,468.2 942.7,468.2 947.3,492.7 1027.8,493.3 1033.3,496.7 1051.1,496.7" fill="none" stroke="#8a5db3" stroke-width="3" stroke-linejoin="round"/></g>
<rect x="128.9" y="411.9" width="263" height="212.3" rx="5" ry="5" fill="#ffffff" fill-opacity="0.8" stroke="#cccccc" stroke-width="2"/>
<line x1="140" y1="434.0" x2="201" y2="434.0" stroke="#1f77b4" stroke-opacity="0.7" stroke-width="3" stroke-dasharray="11.1 4.8"/>
<text x="222.80" y="444.70" font-size="29.5" textLength="97.29" lengthAdjust="spacingAndGlyphs" class="t">random</text>
<line x1="140" y1="474.8" x2="201" y2="474.8" stroke="#ee7b14" stroke-width="3"/>
<text x="222.31" y="485.00" font-size="29.5" textLength="155.99" lengthAdjust="spacingAndGlyphs" class="t">auto-sklearn</text>
<line x1="140" y1="516.0" x2="201" y2="516.0" stroke="#2ca02c" stroke-opacity="0.7" stroke-width="3" stroke-dasharray="11.1 4.8"/>
<text x="222.81" y="525.80" font-size="29.5" textLength="126.89" lengthAdjust="spacingAndGlyphs" class="t">random2x</text>
<line x1="140" y1="556.7" x2="201" y2="556.7" stroke="#d62728" stroke-opacity="0.7" stroke-width="3" stroke-dasharray="11.1 4.8"/>
<text x="222.81" y="567.30" font-size="29.5" textLength="127.19" lengthAdjust="spacingAndGlyphs" class="t">random4x</text>
<line x1="140" y1="597.7" x2="201" y2="597.7" stroke="#8a5db3" stroke-width="3"/>
<text x="222.79" y="607.70" font-size="29.5" textLength="65.83" lengthAdjust="spacingAndGlyphs" class="t">PMF</text>
<rect x="115" y="3" width="981" height="636.4" fill="none" stroke="#000" stroke-width="2.4"/>
<line x1="104" y1="20.6" x2="115" y2="20.6" stroke="#000" stroke-width="2.4"/>
<text x="41.76" y="31.40" font-size="29.5" textLength="52.65" lengthAdjust="spacingAndGlyphs" class="t">0.22</text>
<line x1="104" y1="93.5" x2="115" y2="93.5" stroke="#000" stroke-width="2.4"/>
<text x="41.77" y="104.29" font-size="29.5" textLength="52.16" lengthAdjust="spacingAndGlyphs" class="t">0.20</text>
<line x1="104" y1="166.4" x2="115" y2="166.4" stroke="#000" stroke-width="2.4"/>
<text x="41.77" y="177.18" font-size="29.5" textLength="52.16" lengthAdjust="spacingAndGlyphs" class="t">0.18</text>
<line x1="104" y1="239.3" x2="115" y2="239.3" stroke="#000" stroke-width="2.4"/>
<text x="41.78" y="250.06" font-size="29.5" textLength="51.68" lengthAdjust="spacingAndGlyphs" class="t">0.16</text>
<line x1="104" y1="312.2" x2="115" y2="312.2" stroke="#000" stroke-width="2.4"/>
<text x="41.78" y="322.95" font-size="29.5" textLength="51.68" lengthAdjust="spacingAndGlyphs" class="t">0.14</text>
<line x1="104" y1="385.0" x2="115" y2="385.0" stroke="#000" stroke-width="2.4"/>
<text x="41.76" y="395.84" font-size="29.5" textLength="52.65" lengthAdjust="spacingAndGlyphs" class="t">0.12</text>
<line x1="104" y1="457.9" x2="115" y2="457.9" stroke="#000" stroke-width="2.4"/>
<text x="41.77" y="468.73" font-size="29.5" textLength="52.16" lengthAdjust="spacingAndGlyphs" class="t">0.10</text>
<line x1="104" y1="530.8" x2="115" y2="530.8" stroke="#000" stroke-width="2.4"/>
<text x="41.77" y="541.61" font-size="29.5" textLength="52.16" lengthAdjust="spacingAndGlyphs" class="t">0.08</text>
<line x1="104" y1="603.7" x2="115" y2="603.7" stroke="#000" stroke-width="2.4"/>
<text x="41.78" y="614.50" font-size="29.5" textLength="51.68" lengthAdjust="spacingAndGlyphs" class="t">0.06</text>
<line x1="159.0" y1="639" x2="159.0" y2="649.5" stroke="#000" stroke-width="2.4"/>
<text x="158.7" y="681.0" font-size="29.5" text-anchor="middle" class="t">0</text>
<line x1="271.1" y1="639" x2="271.1" y2="649.5" stroke="#000" stroke-width="2.4"/>
<text x="270.8" y="681.0" font-size="29.5" text-anchor="middle" class="t">25</text>
<line x1="383.2" y1="639" x2="383.2" y2="649.5" stroke="#000" stroke-width="2.4"/>
<text x="382.9" y="681.0" font-size="29.5" text-anchor="middle" class="t">50</text>
<line x1="495.3" y1="639" x2="495.3" y2="649.5" stroke="#000" stroke-width="2.4"/>
<text x="495.0" y="681.0" font-size="29.5" text-anchor="middle" class="t">75</text>
<line x1="607.4" y1="639" x2="607.4" y2="649.5" stroke="#000" stroke-width="2.4"/>
<text x="607.1" y="681.0" font-size="29.5" text-anchor="middle" class="t">100</text>
<line x1="719.5" y1="639" x2="719.5" y2="649.5" stroke="#000" stroke-width="2.4"/>
<text x="719.2" y="681.0" font-size="29.5" text-anchor="middle" class="t">125</text>
<line x1="831.6" y1="639" x2="831.6" y2="649.5" stroke="#000" stroke-width="2.4"/>
<text x="831.3" y="681.0" font-size="29.5" text-anchor="middle" class="t">150</text>
<line x1="943.7" y1="639" x2="943.7" y2="649.5" stroke="#000" stroke-width="2.4"/>
<text x="943.4" y="681.0" font-size="29.5" text-anchor="middle" class="t">175</text>
<line x1="1055.8" y1="639" x2="1055.8" y2="649.5" stroke="#000" stroke-width="2.4"/>
<text x="1055.5" y="681.0" font-size="29.5" text-anchor="middle" class="t">200</text>
<text x="543.28" y="718.20" font-size="29.5" textLength="123.39" lengthAdjust="spacingAndGlyphs" class="t">Iterations</text>
<g transform="translate(23.3,452.5) rotate(-90)"><text x="-0.51" y="0.00" font-size="30.5" textLength="261.70" lengthAdjust="spacingAndGlyphs" class="t">Regret (mean ± SE)</text></g>
</svg></body></html>
